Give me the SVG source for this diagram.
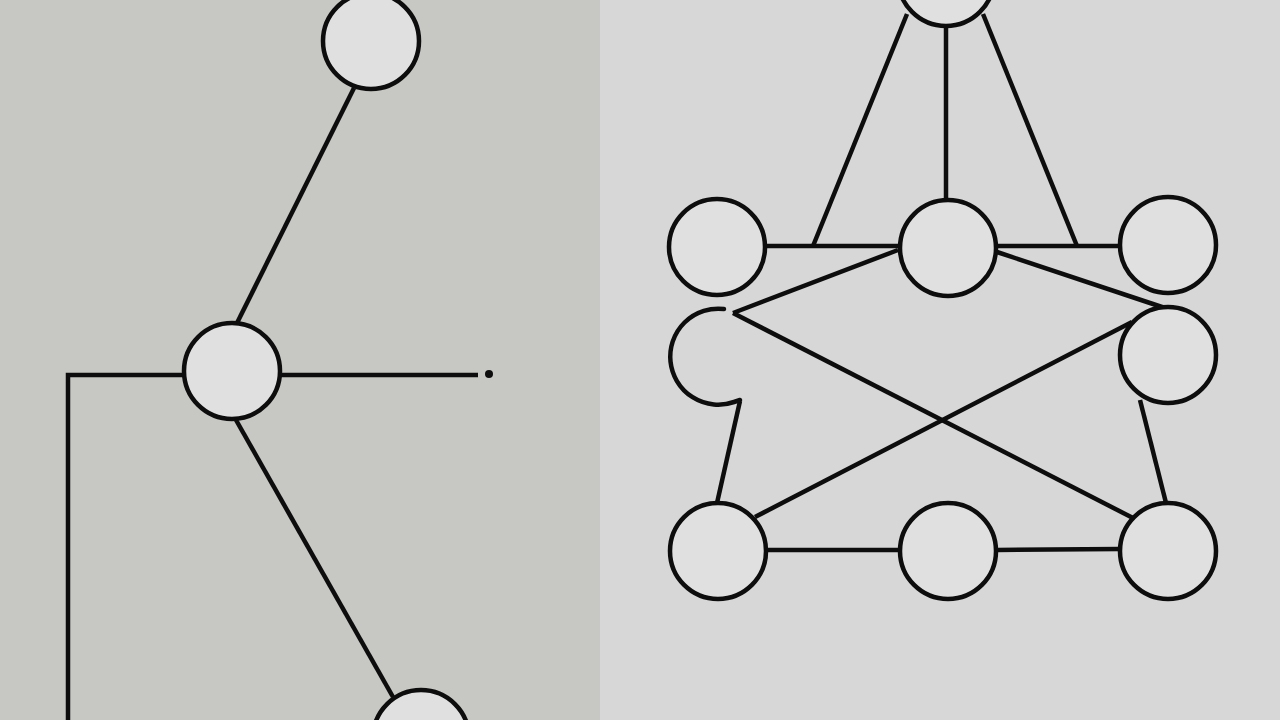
<svg xmlns="http://www.w3.org/2000/svg" width="1280" height="720" viewBox="0 0 1280 720">
<style>
.n{fill:#e0e0e0;stroke:#0d0d0d;stroke-width:4.5}
.e{fill:none;stroke:#0d0d0d;stroke-width:4.5;stroke-linecap:butt}
.o{fill:none;stroke:#0d0d0d;stroke-width:4.5;stroke-linecap:round;stroke-linejoin:round}
</style>
<rect x="0" y="0" width="600" height="720" fill="#c7c7c3"/>
<rect x="600" y="0" width="680" height="720" fill="#d7d7d7"/>
<g id="connectors">
<path class="e" d="M354 88 L237 323"/>
<path class="e" d="M281 375 L478 375"/>
<circle cx="489" cy="374" r="4" fill="#0d0d0d"/>
<path class="e" d="M184 375 L68 375 L68 720"/>
<path class="e" d="M236 420 L393 697"/>
<path class="e" d="M907 14 L813 246"/>
<path class="e" d="M946 26 L946 200"/>
<path class="e" d="M983 14 L1077 246"/>
<path class="e" d="M766 246 L900 246"/>
<path class="e" d="M997 246 L1120 246"/>
<path class="e" d="M733 313 L898 250"/>
<path class="e" d="M997 252 L1165 308"/>
<path class="e" d="M733 313 L1133 518"/>
<path class="e" d="M755 517 L1132 322"/>
<path class="e" d="M1140 400 L1166 503"/>
<path class="e" d="M740 401 L717 503"/>
<path class="e" d="M766 550 L900 550"/>
<path class="e" d="M997 550 L1120 549"/>
</g>
<g id="n1"><circle class="n" cx="371" cy="41" r="48"/></g>
<g id="n2"><circle class="n" cx="232" cy="371" r="48"/></g>
<g id="n3"><circle class="n" cx="421" cy="738" r="48"/></g>
<g id="r0"><circle class="n" cx="946" cy="-22" r="48"/></g>
<g id="r1"><circle class="n" cx="717" cy="247" r="48"/></g>
<g id="r2"><circle class="n" cx="948" cy="248" r="48"/></g>
<g id="r3"><circle class="n" cx="1168" cy="245" r="48"/></g>
<g id="r4"><path class="o" d="M724 309 A48 48 0 1 0 734 402 L740 400"/></g>
<g id="r5"><circle class="n" cx="1168" cy="355" r="48"/></g>
<g id="r6"><circle class="n" cx="718" cy="551" r="48"/></g>
<g id="r7"><circle class="n" cx="948" cy="551" r="48"/></g>
<g id="r8"><circle class="n" cx="1168" cy="551" r="48"/></g>
</svg>
